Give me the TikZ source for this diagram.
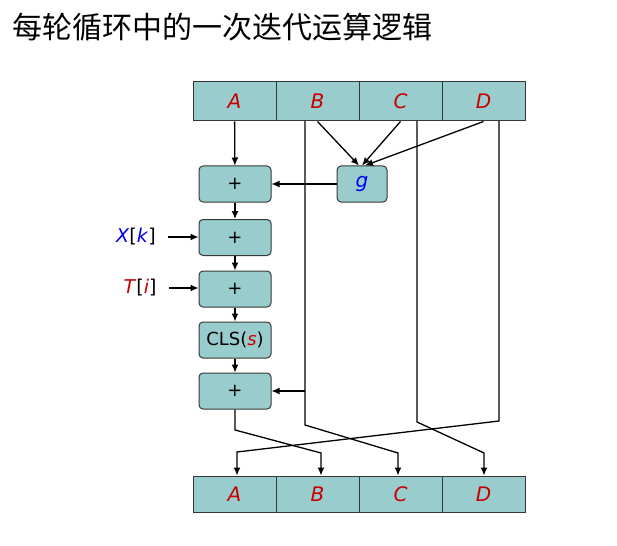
\documentclass[tikz,border=0pt]{standalone}
\usepackage{fontspec}
\setmainfont{DejaVu Sans}
\newfontfamily\cjk{Noto Sans CJK SC}
\usetikzlibrary{arrows.meta}
\definecolor{regfill}{RGB}{153,204,204}
\definecolor{regdraw}{RGB}{55,55,55}
\definecolor{letred}{RGB}{200,0,0}
\definecolor{letblue}{RGB}{0,0,240}

\newcommand\regletter[1]{\textcolor{letred}{\textit{#1}}}
\newcommand\regnodes[3]{
        \node [reg, minimum height=#3, name=#1a] at (234.5,#2) {\regletter{A}};
        \node [reg, minimum height=#3, name=#1b] at (317.5,#2) {\regletter{B}};
        \node [reg, minimum height=#3, name=#1c] at (400.5,#2) {\regletter{C}};
        \node [reg, minimum height=#3, name=#1d] at (483.5,#2) {\regletter{D}};
}

\begin{document}
\begin{tikzpicture}[x=1pt, y=-1pt,
        reg/.style={draw=regdraw, line width=1pt, fill=regfill, minimum width=83, inner sep=0pt,
          font=\fontsize{20}{24}\selectfont},
        opbox/.style={draw=regdraw, line width=1pt, fill=regfill, rounded corners=4pt,
          minimum width=72, minimum height=36, inner sep=0pt, font=\fontsize{18}{22}\selectfont},
        link/.style={line width=1.3pt, >={Latex[length=8pt,width=7pt]}}
        ]
        \useasboundingbox (0,0) rectangle (617,545);
        \node [name=title, anchor=base west, inner sep=0pt, font=\cjk\fontsize{30}{36}\selectfont]
          at (12,39) {每轮循环中的一次迭代运算逻辑};
        % registers in and out
        \regnodes{t}{101.5}{39}
        \regnodes{b}{494}{36}
        % operations
        \node [opbox, name=add1] at (235,184) {+};
        \node [opbox, name=add2] at (235,237.5) {+};
        \node [opbox, name=add3] at (235,289) {+};
        \node [opbox, name=cls] at (235,340) {CLS(\textcolor{letred}{\textit{s}})};
        \node [opbox, name=add4] at (235,391) {+};
        \node [opbox, minimum width=50, name=g, font=\fontsize{20}{24}\selectfont] at (362,184)
          {\textcolor{letblue}{\textit{g}}};
        \node [name=xk, font=\fontsize{19}{23}\selectfont] at (136,237)
          {\textcolor{letblue}{\textit{X}}[\textcolor{letblue}{\textit{k}}]};
        \node [name=ti, font=\fontsize{19}{23}\selectfont] at (140,288)
          {\textcolor{letred}{\textit{T}}[\textcolor{letred}{\textit{i}}]};
        % bends
        \coordinate (ao) at (235,430);
        \coordinate (ak) at (321,453);
        \coordinate (bt) at (305,121);
        \coordinate (bm) at (305,425);
        \coordinate (bk) at (398,453);
        \coordinate (ct) at (417,121);
        \coordinate (cm) at (417,422);
        \coordinate (ck) at (484,453);
        \coordinate (dt) at (499,121);
        \coordinate (dm) at (499,421);
        \coordinate (dk) at (237,452);
        \begin{scope}[link, ->]
          \draw (ta) -- (add1);
          \draw (add1) -- (add2);
          \draw (add2) -- (add3);
          \draw (add3) -- (cls);
          \draw (cls) -- (add4);
          \draw (tb.south) -- ([xshift=-3]g.north);
          \draw (tc.south) -- (g.north);
          \draw (td.south) -- ([xshift=3]g.north);
          \draw (g) -- (add1);
          \draw [shorten <=9pt] (xk.east) -- (add2.west |- xk.east);
          \draw [shorten <=9pt] (ti.east) -- (add3.west |- ti.east);
          \draw (bt |- add4.east) -- (add4.east);
          \draw (add4) -- (ao) -- (ak) -- (ak |- bb.north);
          \draw (bt) -- (bm) -- (bk) -- (bk |- bc.north);
          \draw (ct) -- (cm) -- (ck) -- (ck |- bd.north);
          \draw (dt) -- (dm) -- (dk) -- (dk |- ba.north);
        \end{scope}
      \end{tikzpicture}
\end{document}
